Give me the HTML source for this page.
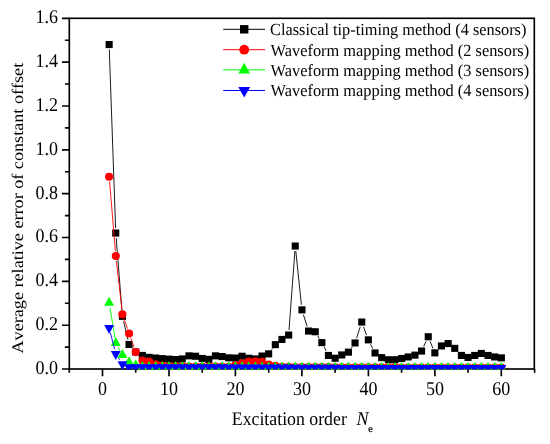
<!DOCTYPE html>
<html><head><meta charset="utf-8"><title>Chart</title><style>html,body{margin:0;padding:0;background:#fff}svg{display:block}</style></head><body>
<svg width="550" height="444" viewBox="0 0 550 444" font-family="'Liberation Serif', 'Times New Roman', serif" fill="#000" text-rendering="geometricPrecision">
<rect width="550" height="444" fill="#fff"/>
<rect x="69.3" y="18.3" width="465.0" height="350.7" fill="none" stroke="#000" stroke-width="1.65"/>
<path d="M69.3 369.0h-7.3M69.3 347.1h-4.4M69.3 325.2h-7.3M69.3 303.2h-4.4M69.3 281.3h-7.3M69.3 259.4h-4.4M69.3 237.5h-7.3M69.3 215.6h-4.4M69.3 193.6h-7.3M69.3 171.7h-4.4M69.3 149.8h-7.3M69.3 127.9h-4.4M69.3 106.0h-7.3M69.3 84.0h-4.4M69.3 62.1h-7.3M69.3 40.2h-4.4M69.3 18.3h-7.3M69.3 369.0v3.8M102.5 369.0v7.2M135.7 369.0v3.8M169.0 369.0v7.2M202.2 369.0v3.8M235.4 369.0v7.2M268.7 369.0v3.8M301.9 369.0v7.2M335.1 369.0v3.8M368.4 369.0v7.2M401.6 369.0v3.8M434.9 369.0v7.2M468.1 369.0v3.8M501.3 369.0v7.2M534.6 369.0v3.8" stroke="#000" stroke-width="1.65" fill="none"/>
<clipPath id="cp"><rect x="69.3" y="18.3" width="465.0" height="351.2"/></clipPath>
<g clip-path="url(#cp)">
<path d="M109.3 49.6L115.6 228.1M116.2 238.1L122.0 311.4M123.6 321.3L127.9 339.6M271.6 349.8L272.4 348.7M289.0 330.0L294.9 251.0M295.8 251.0L301.4 304.8M303.4 314.6L307.1 326.3M317.8 336.0L319.3 338.4M324.2 347.1L326.2 351.0M351.4 348.1L352.2 347.0M356.6 338.2L360.2 326.9M363.5 326.8L366.6 335.2M370.6 344.3L372.8 348.5M423.7 346.5L426.1 341.3M430.1 341.4L432.9 348.3" stroke="#000" stroke-width="0.9" fill="none"/><g fill="#000"><rect x="105.6" y="41.0" width="7.1" height="7.1"/><rect x="112.2" y="229.5" width="7.1" height="7.1"/><rect x="118.9" y="312.8" width="7.1" height="7.1"/><rect x="125.5" y="340.9" width="7.1" height="7.1"/><rect x="132.2" y="348.4" width="7.1" height="7.1"/><rect x="138.8" y="351.9" width="7.1" height="7.1"/><rect x="145.5" y="353.8" width="7.1" height="7.1"/><rect x="152.1" y="354.5" width="7.1" height="7.1"/><rect x="158.8" y="355.1" width="7.1" height="7.1"/><rect x="165.4" y="355.6" width="7.1" height="7.1"/><rect x="172.1" y="356.0" width="7.1" height="7.1"/><rect x="178.7" y="355.4" width="7.1" height="7.1"/><rect x="185.4" y="352.3" width="7.1" height="7.1"/><rect x="192.0" y="352.7" width="7.1" height="7.1"/><rect x="198.7" y="354.9" width="7.1" height="7.1"/><rect x="205.3" y="355.8" width="7.1" height="7.1"/><rect x="211.9" y="352.3" width="7.1" height="7.1"/><rect x="218.6" y="353.0" width="7.1" height="7.1"/><rect x="225.2" y="354.3" width="7.1" height="7.1"/><rect x="231.9" y="354.5" width="7.1" height="7.1"/><rect x="238.5" y="352.7" width="7.1" height="7.1"/><rect x="245.2" y="354.7" width="7.1" height="7.1"/><rect x="251.8" y="355.4" width="7.1" height="7.1"/><rect x="258.5" y="352.5" width="7.1" height="7.1"/><rect x="265.1" y="350.3" width="7.1" height="7.1"/><rect x="271.8" y="341.1" width="7.1" height="7.1"/><rect x="278.4" y="335.9" width="7.1" height="7.1"/><rect x="285.1" y="331.5" width="7.1" height="7.1"/><rect x="291.7" y="242.5" width="7.1" height="7.1"/><rect x="298.4" y="306.3" width="7.1" height="7.1"/><rect x="305.0" y="327.5" width="7.1" height="7.1"/><rect x="311.7" y="328.2" width="7.1" height="7.1"/><rect x="318.3" y="339.1" width="7.1" height="7.1"/><rect x="324.9" y="351.9" width="7.1" height="7.1"/><rect x="331.6" y="354.7" width="7.1" height="7.1"/><rect x="338.2" y="351.4" width="7.1" height="7.1"/><rect x="344.9" y="348.6" width="7.1" height="7.1"/><rect x="351.5" y="339.4" width="7.1" height="7.1"/><rect x="358.2" y="318.5" width="7.1" height="7.1"/><rect x="364.8" y="336.3" width="7.1" height="7.1"/><rect x="371.5" y="349.4" width="7.1" height="7.1"/><rect x="378.1" y="354.1" width="7.1" height="7.1"/><rect x="384.8" y="356.2" width="7.1" height="7.1"/><rect x="391.4" y="356.2" width="7.1" height="7.1"/><rect x="398.1" y="354.9" width="7.1" height="7.1"/><rect x="404.7" y="353.4" width="7.1" height="7.1"/><rect x="411.4" y="351.6" width="7.1" height="7.1"/><rect x="418.0" y="347.5" width="7.1" height="7.1"/><rect x="424.7" y="333.2" width="7.1" height="7.1"/><rect x="431.3" y="349.3" width="7.1" height="7.1"/><rect x="437.9" y="342.4" width="7.1" height="7.1"/><rect x="444.6" y="340.0" width="7.1" height="7.1"/><rect x="451.2" y="344.8" width="7.1" height="7.1"/><rect x="457.9" y="351.9" width="7.1" height="7.1"/><rect x="464.5" y="353.9" width="7.1" height="7.1"/><rect x="471.2" y="351.9" width="7.1" height="7.1"/><rect x="477.8" y="349.9" width="7.1" height="7.1"/><rect x="484.5" y="351.9" width="7.1" height="7.1"/><rect x="491.1" y="353.4" width="7.1" height="7.1"/><rect x="497.8" y="354.3" width="7.1" height="7.1"/></g>
<path d="M109.6 181.7L115.4 251.1M116.4 261.1L121.9 309.2M124.1 318.9L127.5 328.8M130.8 338.2L134.1 347.4M138.9 356.0L139.3 356.5" stroke="#f00" stroke-width="0.9" fill="none"/><g fill="#f00"><circle cx="109.1" cy="176.8" r="4.05"/><circle cx="115.8" cy="256.1" r="4.05"/><circle cx="122.4" cy="314.2" r="4.05"/><circle cx="129.1" cy="333.5" r="4.05"/><circle cx="135.7" cy="352.1" r="4.05"/><circle cx="142.4" cy="360.5" r="4.05"/><circle cx="149.0" cy="361.5" r="4.05"/><circle cx="155.7" cy="364.2" r="4.05"/><circle cx="162.3" cy="365.5" r="4.05"/><circle cx="169.0" cy="366.2" r="4.05"/><circle cx="175.6" cy="366.4" r="4.05"/><circle cx="182.3" cy="366.4" r="4.05"/><circle cx="188.9" cy="366.5" r="4.05"/><circle cx="195.6" cy="366.5" r="4.05"/><circle cx="202.2" cy="366.5" r="4.05"/><circle cx="208.9" cy="366.6" r="4.05"/><circle cx="215.5" cy="366.6" r="4.05"/><circle cx="222.1" cy="366.6" r="4.05"/><circle cx="228.8" cy="366.7" r="4.05"/><circle cx="235.4" cy="365.3" r="4.05"/><circle cx="242.1" cy="363.3" r="4.05"/><circle cx="248.7" cy="361.5" r="4.05"/><circle cx="255.4" cy="361.3" r="4.05"/><circle cx="262.0" cy="361.8" r="4.05"/><circle cx="268.7" cy="364.6" r="4.05"/><circle cx="275.3" cy="365.9" r="4.05"/><circle cx="282.0" cy="366.9" r="4.05"/><circle cx="288.6" cy="366.9" r="4.05"/><circle cx="295.3" cy="367.0" r="4.05"/><circle cx="301.9" cy="367.0" r="4.05"/><circle cx="308.6" cy="367.0" r="4.05"/><circle cx="315.2" cy="367.1" r="4.05"/><circle cx="321.9" cy="367.1" r="4.05"/><circle cx="328.5" cy="367.1" r="4.05"/><circle cx="335.1" cy="367.2" r="4.05"/><circle cx="341.8" cy="367.2" r="4.05"/><circle cx="348.4" cy="367.2" r="4.05"/><circle cx="355.1" cy="367.2" r="4.05"/><circle cx="361.7" cy="367.3" r="4.05"/><circle cx="368.4" cy="367.3" r="4.05"/><circle cx="375.0" cy="367.3" r="4.05"/><circle cx="381.7" cy="367.4" r="4.05"/><circle cx="388.3" cy="367.4" r="4.05"/><circle cx="395.0" cy="367.4" r="4.05"/><circle cx="401.6" cy="367.5" r="4.05"/><circle cx="408.3" cy="367.5" r="4.05"/><circle cx="414.9" cy="367.5" r="4.05"/><circle cx="421.6" cy="367.5" r="4.05"/><circle cx="428.2" cy="367.5" r="4.05"/><circle cx="434.9" cy="367.5" r="4.05"/><circle cx="441.5" cy="367.5" r="4.05"/><circle cx="448.1" cy="367.5" r="4.05"/><circle cx="454.8" cy="367.5" r="4.05"/><circle cx="461.4" cy="367.5" r="4.05"/><circle cx="468.1" cy="367.5" r="4.05"/><circle cx="474.7" cy="367.5" r="4.05"/><circle cx="481.4" cy="367.5" r="4.05"/><circle cx="488.0" cy="367.5" r="4.05"/><circle cx="494.7" cy="367.5" r="4.05"/><circle cx="501.3" cy="367.5" r="4.05"/></g>
<path d="M110.0 307.7L115.0 338.0M118.2 347.3L120.0 350.6" stroke="#0f0" stroke-width="0.9" fill="none"/><g fill="#0f0"><path d="M104.2 305.8h9.9L109.1 296.8z"/><path d="M110.8 345.9h9.9L115.8 336.9z"/><path d="M117.5 358.0h9.9L122.4 349.0z"/><path d="M124.1 365.2h9.9L129.1 356.2z"/><path d="M130.8 368.3h9.9L135.7 359.3z"/><path d="M137.4 370.1h9.9L142.4 361.1z"/><path d="M144.1 370.1h9.9L149.0 361.1z"/><path d="M150.7 370.1h9.9L155.7 361.1z"/><path d="M157.4 370.1h9.9L162.3 361.1z"/><path d="M164.0 370.1h9.9L169.0 361.1z"/><path d="M170.7 370.1h9.9L175.6 361.1z"/><path d="M177.3 370.1h9.9L182.3 361.1z"/><path d="M184.0 370.1h9.9L188.9 361.1z"/><path d="M190.6 370.1h9.9L195.6 361.1z"/><path d="M197.3 370.1h9.9L202.2 361.1z"/><path d="M203.9 370.2h9.9L208.9 361.2z"/><path d="M210.5 370.2h9.9L215.5 361.2z"/><path d="M217.2 370.2h9.9L222.1 361.2z"/><path d="M223.8 370.3h9.9L228.8 361.3z"/><path d="M230.5 370.3h9.9L235.4 361.3z"/><path d="M237.1 370.3h9.9L242.1 361.3z"/><path d="M243.8 370.3h9.9L248.7 361.3z"/><path d="M250.4 370.4h9.9L255.4 361.4z"/><path d="M257.1 370.4h9.9L262.0 361.4z"/><path d="M263.7 370.4h9.9L268.7 361.4z"/><path d="M270.4 370.5h9.9L275.3 361.5z"/><path d="M277.0 370.5h9.9L282.0 361.5z"/><path d="M283.7 370.5h9.9L288.6 361.5z"/><path d="M290.3 370.5h9.9L295.3 361.5z"/><path d="M297.0 370.6h9.9L301.9 361.6z"/><path d="M303.6 370.6h9.9L308.6 361.6z"/><path d="M310.3 370.6h9.9L315.2 361.6z"/><path d="M316.9 370.7h9.9L321.9 361.7z"/><path d="M323.5 370.7h9.9L328.5 361.7z"/><path d="M330.2 370.7h9.9L335.1 361.7z"/><path d="M336.8 370.8h9.9L341.8 361.8z"/><path d="M343.5 370.8h9.9L348.4 361.8z"/><path d="M350.1 370.8h9.9L355.1 361.8z"/><path d="M356.8 370.8h9.9L361.7 361.8z"/><path d="M363.4 370.9h9.9L368.4 361.9z"/><path d="M370.1 370.9h9.9L375.0 361.9z"/><path d="M376.7 370.9h9.9L381.7 361.9z"/><path d="M383.4 371.0h9.9L388.3 362.0z"/><path d="M390.0 371.0h9.9L395.0 362.0z"/><path d="M396.7 371.0h9.9L401.6 362.0z"/><path d="M403.3 371.0h9.9L408.3 362.0z"/><path d="M410.0 371.0h9.9L414.9 362.0z"/><path d="M416.6 371.0h9.9L421.6 362.0z"/><path d="M423.3 371.0h9.9L428.2 362.0z"/><path d="M429.9 371.0h9.9L434.9 362.0z"/><path d="M436.5 371.0h9.9L441.5 362.0z"/><path d="M443.2 371.0h9.9L448.1 362.0z"/><path d="M449.8 371.0h9.9L454.8 362.0z"/><path d="M456.5 371.0h9.9L461.4 362.0z"/><path d="M463.1 371.0h9.9L468.1 362.0z"/><path d="M469.8 371.0h9.9L474.7 362.0z"/><path d="M476.4 371.0h9.9L481.4 362.0z"/><path d="M483.1 371.0h9.9L488.0 362.0z"/><path d="M489.7 371.0h9.9L494.7 362.0z"/><path d="M496.4 371.0h9.9L501.3 362.0z"/></g>
<path d="M110.4 332.9L114.6 349.2M118.5 358.3L119.7 360.0" stroke="#00f" stroke-width="0.9" fill="none"/><g fill="#00f"><path d="M104.2 325.0h9.9L109.1 334.0z"/><path d="M110.8 351.1h9.9L115.8 360.1z"/><path d="M117.5 361.2h9.9L122.4 370.2z"/><path d="M124.1 364.2h9.9L129.1 373.2z"/><path d="M130.8 364.2h9.9L135.7 373.2z"/><path d="M137.4 364.2h9.9L142.4 373.2z"/><path d="M144.1 364.2h9.9L149.0 373.2z"/><path d="M150.7 364.2h9.9L155.7 373.2z"/><path d="M157.4 364.2h9.9L162.3 373.2z"/><path d="M164.0 364.2h9.9L169.0 373.2z"/><path d="M170.7 364.2h9.9L175.6 373.2z"/><path d="M177.3 364.2h9.9L182.3 373.2z"/><path d="M184.0 364.2h9.9L188.9 373.2z"/><path d="M190.6 364.2h9.9L195.6 373.2z"/><path d="M197.3 364.2h9.9L202.2 373.2z"/><path d="M203.9 364.3h9.9L208.9 373.3z"/><path d="M210.5 364.3h9.9L215.5 373.3z"/><path d="M217.2 364.3h9.9L222.1 373.3z"/><path d="M223.8 364.4h9.9L228.8 373.4z"/><path d="M230.5 364.4h9.9L235.4 373.4z"/><path d="M237.1 364.4h9.9L242.1 373.4z"/><path d="M243.8 364.5h9.9L248.7 373.5z"/><path d="M250.4 364.5h9.9L255.4 373.5z"/><path d="M257.1 364.5h9.9L262.0 373.5z"/><path d="M263.7 364.5h9.9L268.7 373.5z"/><path d="M270.4 364.6h9.9L275.3 373.6z"/><path d="M277.0 364.6h9.9L282.0 373.6z"/><path d="M283.7 364.6h9.9L288.6 373.6z"/><path d="M290.3 364.7h9.9L295.3 373.7z"/><path d="M297.0 364.7h9.9L301.9 373.7z"/><path d="M303.6 364.7h9.9L308.6 373.7z"/><path d="M310.3 364.7h9.9L315.2 373.7z"/><path d="M316.9 364.8h9.9L321.9 373.8z"/><path d="M323.5 364.8h9.9L328.5 373.8z"/><path d="M330.2 364.8h9.9L335.1 373.8z"/><path d="M336.8 364.9h9.9L341.8 373.9z"/><path d="M343.5 364.9h9.9L348.4 373.9z"/><path d="M350.1 364.9h9.9L355.1 373.9z"/><path d="M356.8 364.9h9.9L361.7 373.9z"/><path d="M363.4 365.0h9.9L368.4 374.0z"/><path d="M370.1 365.0h9.9L375.0 374.0z"/><path d="M376.7 365.0h9.9L381.7 374.0z"/><path d="M383.4 365.1h9.9L388.3 374.1z"/><path d="M390.0 365.1h9.9L395.0 374.1z"/><path d="M396.7 365.1h9.9L401.6 374.1z"/><path d="M403.3 365.1h9.9L408.3 374.1z"/><path d="M410.0 365.1h9.9L414.9 374.1z"/><path d="M416.6 365.1h9.9L421.6 374.1z"/><path d="M423.3 365.1h9.9L428.2 374.1z"/><path d="M429.9 365.1h9.9L434.9 374.1z"/><path d="M436.5 365.1h9.9L441.5 374.1z"/><path d="M443.2 365.1h9.9L448.1 374.1z"/><path d="M449.8 365.1h9.9L454.8 374.1z"/><path d="M456.5 365.1h9.9L461.4 374.1z"/><path d="M463.1 365.1h9.9L468.1 374.1z"/><path d="M469.8 365.1h9.9L474.7 374.1z"/><path d="M476.4 365.1h9.9L481.4 374.1z"/><path d="M483.1 365.1h9.9L488.0 374.1z"/><path d="M489.7 365.1h9.9L494.7 374.1z"/><path d="M496.4 365.1h9.9L501.3 374.1z"/></g>
</g>
<g font-size="19.4" text-anchor="end">
<text transform="translate(58.1 373.9) scale(0.93 1)">0.0</text>
<text transform="translate(58.1 330.1) scale(0.93 1)">0.2</text>
<text transform="translate(58.1 286.2) scale(0.93 1)">0.4</text>
<text transform="translate(58.1 242.4) scale(0.93 1)">0.6</text>
<text transform="translate(58.1 198.5) scale(0.93 1)">0.8</text>
<text transform="translate(58.1 154.7) scale(0.93 1)">1.0</text>
<text transform="translate(58.1 110.9) scale(0.93 1)">1.2</text>
<text transform="translate(58.1 67.0) scale(0.93 1)">1.4</text>
<text transform="translate(58.1 23.2) scale(0.93 1)">1.6</text>
</g>
<g font-size="19.4" text-anchor="middle">
<text transform="translate(102.5 395) scale(0.93 1)">0</text>
<text transform="translate(169.0 395) scale(0.93 1)">10</text>
<text transform="translate(235.4 395) scale(0.93 1)">20</text>
<text transform="translate(301.9 395) scale(0.93 1)">30</text>
<text transform="translate(368.4 395) scale(0.93 1)">40</text>
<text transform="translate(434.9 395) scale(0.93 1)">50</text>
<text transform="translate(501.3 395) scale(0.93 1)">60</text>
</g>
<text font-size="19.2" x="231.8" y="424.8" textLength="115" lengthAdjust="spacingAndGlyphs">Excitation order</text>
<text font-size="19.6" font-style="italic" transform="translate(356.4 424.9) scale(0.92 1)">N</text>
<text font-size="10.2" x="368.2" y="431.7" stroke="#000" stroke-width="0.25">e</text>
<text font-size="16.2" transform="translate(23.2 353.5) rotate(-90)" textLength="290.7" style="font-kerning:none" lengthAdjust="spacingAndGlyphs">Average relative error of constant offset</text>
<path d="M223.2 29.3H265" stroke="#000" stroke-width="1"/>
<g fill="#000"><rect x="240.0" y="25.1" width="8.4" height="8.4"/></g>
<text font-size="17" x="270.1" y="35.2" textLength="256.3" lengthAdjust="spacingAndGlyphs">Classical tip-timing method (4 sensors)</text>
<path d="M223.2 49.7H265" stroke="#f00" stroke-width="1"/>
<g fill="#f00"><circle cx="244.2" cy="49.7" r="4.9"/></g>
<text font-size="17" x="270.6" y="56.0" textLength="258.6" lengthAdjust="spacingAndGlyphs">Waveform mapping method (2 sensors)</text>
<path d="M223.2 69.9H265" stroke="#0f0" stroke-width="1"/>
<g fill="#0f0"><path d="M238.3 73.4h11.8L244.2 62.8z"/></g>
<text font-size="17" x="270.6" y="75.5" textLength="258.6" lengthAdjust="spacingAndGlyphs">Waveform mapping method (3 sensors)</text>
<path d="M223.2 90.5H265" stroke="#00f" stroke-width="1"/>
<g fill="#00f"><path d="M238.3 87.0h11.8L244.2 97.6z"/></g>
<text font-size="17" x="270.6" y="95.8" textLength="258.6" lengthAdjust="spacingAndGlyphs">Waveform mapping method (4 sensors)</text>
</svg>
</body></html>
